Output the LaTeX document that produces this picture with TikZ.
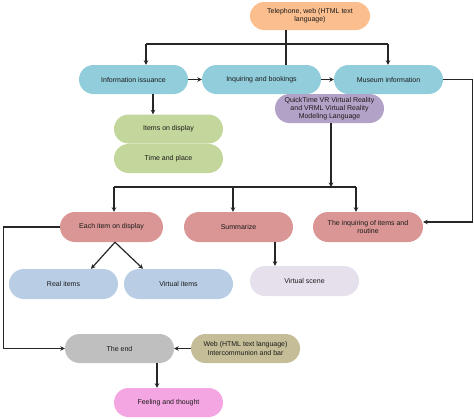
\documentclass[tikz,border=0pt]{standalone}
\usepackage{fontspec}
\setmainfont{Liberation Sans}
\usetikzlibrary{arrows.meta,shapes.misc}
\definecolor{corange}{HTML}{FBBE8E}
\definecolor{cblue}{HTML}{92CDDC}
\definecolor{cpurple}{HTML}{B3A2C7}
\definecolor{cgreen}{HTML}{C3D69B}
\definecolor{cred}{HTML}{D99694}
\definecolor{clblue}{HTML}{B9CDE5}
\definecolor{clilac}{HTML}{E6E0EC}
\definecolor{cgray}{HTML}{BFBFBF}
\definecolor{ctan}{HTML}{C4BD97}
\definecolor{cpink}{HTML}{F4A6E2}
\definecolor{ctext}{HTML}{1A1A1A}
\tikzset{
  pill/.style={rounded rectangle, minimum width=109pt, minimum height=29pt, inner sep=0pt,
    align=center, text=ctext, font=\fontsize{7}{8.2}\selectfont},
  arr/.style={draw=black!85, line width=1.2pt, -{Stealth[length=4.5pt,width=4.5pt]}},
  ln/.style={draw=black!85, line width=1.2pt}
}
\begin{document}
\begin{tikzpicture}[x=1pt,y=-1pt]
\useasboundingbox (0,0) rectangle (474,418);
% nodes
\node[pill, fill=corange, minimum width=120pt, minimum height=28pt] (tel) at (310,16) {Telephone, web (HTML text\\language)};
\node[pill, fill=cblue] (info) at (133.5,79.5) {Information issuance};
\node[pill, fill=cblue, minimum width=119pt] (inq) at (261.5,79.5) {Inquiring and bookings};
\node[pill, fill=cblue] (mus) at (388.5,79.5) {Museum information};
\node[pill, fill=cpurple] (qt) at (329.5,108.5) {QuickTime VR Virtual Reality\\and VRML Virtual Reality\\Modeling Language};
\node[pill, fill=cgreen] (items) at (168.5,129) {Items on display};
\node[pill, fill=cgreen] (time) at (168.5,158.5) {Time and place};
\node[pill, fill=cred, minimum width=103pt, minimum height=30pt] (each) at (111.5,227) {Each item on display};
\node[pill, fill=cred, minimum height=30pt] (sum) at (238.5,227) {Summarize};
\node[pill, fill=cred, minimum width=110pt, minimum height=30pt] (inqr) at (368,227) {The inquiring of items and\\routine};
\node[pill, fill=clblue, minimum height=30pt] (real) at (63.5,284) {Real items};
\node[pill, fill=clblue, minimum height=30pt] (virt) at (178.5,284) {Virtual items};
\node[pill, fill=clilac, minimum height=30pt] (vs) at (304.5,281) {Virtual scene};
\node[pill, fill=cgray] (end) at (119.5,348.5) {The end};
\node[pill, fill=ctan] (web) at (245.5,348.5) {Web (HTML text language)\\Intercommunion and bar};
\node[pill, fill=cpink] (feel) at (168.5,402.5) {Feeling and thought};
% junction coordinates
\coordinate (j1) at (146,44);
\coordinate (j2) at (388,44);
\coordinate (ja) at (114,187);
\coordinate (jb) at (233,187);
\coordinate (jc) at (356,187);
% connectors
\draw[ln] ([xshift=-24pt]tel.south) -- ([xshift=-24pt]tel.south |- inq.north);
\draw[ln] (j1) -- (j2);
\draw[arr] (j1) -- (j1 |- info.north);
\draw[arr] (j2) -- (j2 |- mus.north);
\draw[arr] (info.east) -- (inq.west);
\draw[arr] (inq.east) -- (mus.west);
\draw[arr] ([xshift=19.5pt]info.south) -- ([xshift=19.5pt]info.south |- items.north);
\draw[arr] (mus.east) -- ++(29,0) |- ([yshift=5pt]inqr.east);
\draw[arr] ([xshift=1.5pt]qt.south) -- ([xshift=1.5pt]qt.south |- ja);
\draw[ln] (ja) -- (jc);
\draw[arr] (ja) -- (ja |- each.north);
\draw[arr] (jb) -- (jb |- sum.north);
\draw[arr] (jc) -- (jc |- inqr.north);
\draw[arr] ([xshift=3.5pt]each.south) -- ([xshift=27.5pt]real.north);
\draw[arr] ([xshift=3.5pt]each.south) -- ([xshift=-35.5pt]virt.north);
\draw[arr] ([xshift=36.5pt]sum.south) -- ([xshift=36.5pt]sum.south |- vs.north);
\draw[arr] (each.west) -- ++(-56,0) |- (end.west);
\draw[arr] (web.west) -- (end.east);
\draw[arr] ([xshift=37.5pt]end.south) -- ([xshift=37.5pt]end.south |- feel.north);
\end{tikzpicture}
\end{document}
